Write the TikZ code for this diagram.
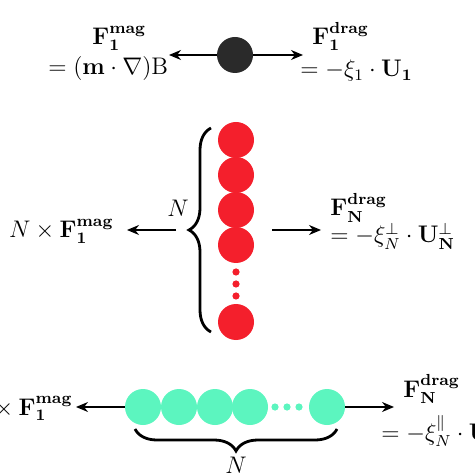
\documentclass[tikz,border=0pt]{standalone}
\usepackage{amsmath}
\usepackage{tikz}
\usetikzlibrary{ arrows.meta,  % For the force arrow tips
                 decorations.pathreplacing, % For the braces
               }
\definecolor{beadblack}{HTML}{2A2A2A}
\definecolor{beadred}{HTML}{F41F2C}
\definecolor{beadcyan}{HTML}{5CF5BF}

\begin{document}
\begin{tikzpicture}[x=0.5pt, y=-0.5pt,
    bead/.style={circle, minimum size=18pt, inner sep=0pt},
    dot/.style={circle, minimum size=3.6pt, inner sep=0pt},
    force/.style={-{Stealth[length=6pt,width=5pt]}, line width=0.6pt},
    lab/.style={inner sep=0pt, font=\fontsize{11.6}{13}\selectfont},
    grp/.style={decorate, line width=1.4pt, decoration={brace, amplitude=11pt}},
  ]
    \useasboundingbox (0,0) rectangle (474,474);
    \clip (0,0) rectangle (474,474);

    % single bead
    \node[bead, fill=beadblack] (s) at (235,55) {};
    \coordinate (smag) at (169,55);
    \coordinate (sdrag) at (303,55);
    \draw[force] (s) -- (smag);
    \draw[force] (s) -- (sdrag);
    \node[lab, anchor=base west] (smagA) at (92,45) {$\mathbf{F}_{\mathbf{1}}^{\mathbf{mag}}$};
    \node[lab, anchor=base west] (smagB) at (48,75) {$= (\mathbf{m}\cdot\nabla)\mathrm{B}$};
    \node[lab, anchor=base west] (sdragA) at (312,45) {$\mathbf{F}_{\mathbf{1}}^{\mathbf{drag}}$};
    \node[lab, anchor=base west] (sdragB) at (300,77) {$= -\xi_1 \cdot \mathbf{U}_{\mathbf{1}}$};

    % chain across the field
    \node[bead, fill=beadred] (r1) at (236,140) {};
    \node[bead, fill=beadred] (r2) at (236,175) {};
    \node[bead, fill=beadred] (r3) at (236,210) {};
    \node[bead, fill=beadred] (r4) at (236,245) {};
    \node[dot, fill=beadred] (rd1) at (236,272) {};
    \node[dot, fill=beadred] (rd2) at (236,284) {};
    \node[dot, fill=beadred] (rd3) at (236,296) {};
    \node[bead, fill=beadred] (rN) at (236,322) {};
    \coordinate (rtop) at (211,128);
    \coordinate (rbot) at (211,332);
    \draw[grp] (rbot) -- (rtop);
    \node[lab] (rn) at (178,208) {$N$};
    \coordinate (rfrom) at (176,230);
    \coordinate (rmag) at (127,230);
    \coordinate (rto) at (272,230);
    \coordinate (rdrag) at (321,230);
    \draw[force] (rfrom) -- (rmag);
    \draw[force] (rto) -- (rdrag);
    \node[lab, anchor=base east] (rmagA) at (114,238) {$N \times \mathbf{F}_{\mathbf{1}}^{\mathbf{mag}}$};
    \node[lab, anchor=base west] (rdragA) at (330,216) {$\mathbf{F}_{\mathbf{N}}^{\mathbf{drag}}$};
    \node[lab, anchor=base west] (rdragB) at (330,243) {$= -\xi_N^{\perp} \cdot \mathbf{U}_{\mathbf{N}}^{\perp}$};

    % chain along the field
    \node[bead, fill=beadcyan] (c1) at (143,407) {};
    \node[bead, fill=beadcyan] (c2) at (179,407) {};
    \node[bead, fill=beadcyan] (c3) at (215,407) {};
    \node[bead, fill=beadcyan] (c4) at (250,407) {};
    \node[dot, fill=beadcyan] (cd1) at (275,407) {};
    \node[dot, fill=beadcyan] (cd2) at (287,407) {};
    \node[dot, fill=beadcyan] (cd3) at (299,407) {};
    \node[bead, fill=beadcyan] (cN) at (327,407) {};
    \coordinate (cleft) at (135,429);
    \coordinate (cright) at (337,429);
    \draw[grp] (cright) -- (cleft);
    \node[lab] (cn) at (236,465) {$N$};
    \coordinate (cmag) at (76,407);
    \coordinate (cdrag) at (394,407);
    \draw[force] (c1) -- (cmag);
    \draw[force] (cN) -- (cdrag);
    \node[lab, anchor=base east] (cmagA) at (73,415) {$N \times \mathbf{F}_{\mathbf{1}}^{\mathbf{mag}}$};
    \node[lab, anchor=base west] (cdragA) at (403,397) {$\mathbf{F}_{\mathbf{N}}^{\mathbf{drag}}$};
    \node[lab, anchor=base west] (cdragB) at (381,440) {$= -\xi_N^{\parallel} \cdot \mathbf{U}_{\mathbf{N}}^{\parallel}$};
  \end{tikzpicture}
\end{document}
